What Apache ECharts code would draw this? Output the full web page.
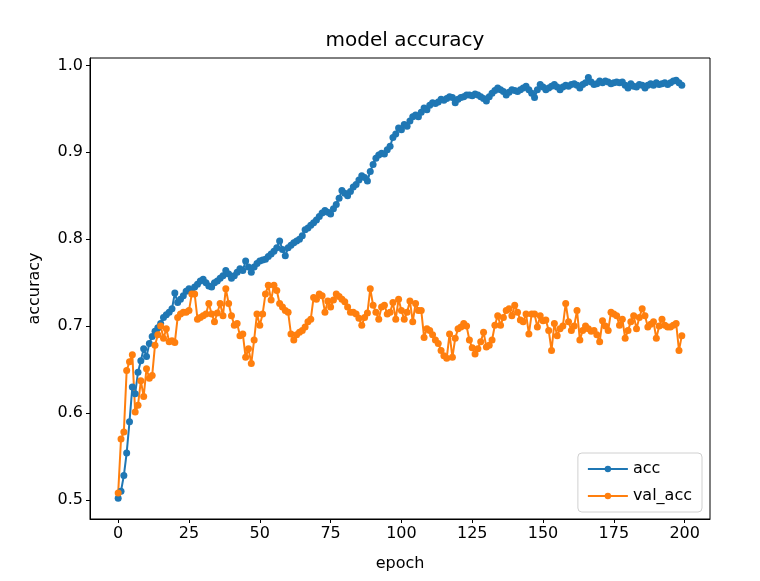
<!DOCTYPE html>
<html>
<head>
<meta charset="utf-8">
<script src="https://cdn.jsdelivr.net/npm/echarts@6/dist/echarts.min.js"></script>
<style>
html,body{margin:0;padding:0;background:#fff;}
#chart{width:760px;height:581px;}
</style>
</head>
<body>
<div id="chart"></div>
<script>
const chartTitle = 'model accuracy';
const xName = 'epoch';
const yName = 'accuracy';
const xTicks = [0, 25, 50, 75, 100, 125, 150, 175, 200];
const yTicks = [0.5, 0.6, 0.7, 0.8, 0.9, 1.0];

const acc = [
0.502,0.510,0.528,0.554,0.590,0.630,0.622,0.647,0.660,0.674,
0.665,0.680,0.688,0.694,0.698,0.703,0.710,0.713,0.716,0.720,
0.738,0.727,0.731,0.735,0.740,0.743,0.741,0.745,0.748,0.752,
0.754,0.750,0.746,0.745,0.750,0.752,0.755,0.758,0.764,0.760,
0.755,0.758,0.762,0.766,0.764,0.775,0.768,0.762,0.768,0.772,
0.775,0.776,0.777,0.780,0.783,0.786,0.790,0.798,0.788,0.781,
0.790,0.793,0.796,0.798,0.800,0.804,0.811,0.813,0.816,0.819,
0.822,0.826,0.830,0.833,0.831,0.829,0.835,0.840,0.847,0.856,
0.853,0.850,0.855,0.860,0.863,0.868,0.873,0.871,0.867,0.878,
0.886,0.893,0.897,0.899,0.898,0.903,0.907,0.917,0.921,0.928,
0.926,0.932,0.930,0.936,0.941,0.943,0.941,0.946,0.951,0.949,
0.954,0.957,0.956,0.958,0.961,0.960,0.962,0.964,0.963,0.957,
0.961,0.963,0.964,0.966,0.966,0.965,0.967,0.966,0.964,0.962,
0.959,0.964,0.968,0.971,0.974,0.972,0.970,0.966,0.969,0.972,
0.971,0.970,0.972,0.974,0.976,0.972,0.968,0.963,0.972,0.978,
0.975,0.972,0.974,0.976,0.978,0.975,0.972,0.975,0.977,0.976,
0.978,0.979,0.977,0.974,0.978,0.980,0.986,0.981,0.978,0.979,
0.982,0.980,0.982,0.981,0.979,0.980,0.981,0.980,0.981,0.977,
0.974,0.979,0.976,0.975,0.978,0.977,0.974,0.977,0.979,0.977,
0.980,0.978,0.979,0.980,0.978,0.980,0.982,0.983,0.980,0.977
];

const valAcc = [
0.508,0.570,0.578,0.649,0.659,0.667,0.601,0.609,0.637,0.619,
0.651,0.640,0.643,0.678,0.690,0.700,0.686,0.697,0.682,0.683,
0.681,0.710,0.714,0.716,0.716,0.718,0.737,0.737,0.708,0.710,
0.712,0.714,0.726,0.714,0.705,0.715,0.726,0.712,0.743,0.726,
0.712,0.701,0.703,0.689,0.691,0.664,0.674,0.657,0.684,0.714,
0.701,0.714,0.737,0.747,0.730,0.747,0.741,0.726,0.722,0.718,
0.716,0.691,0.684,0.690,0.693,0.695,0.699,0.705,0.708,0.733,
0.731,0.737,0.735,0.716,0.729,0.722,0.730,0.737,0.734,0.731,
0.728,0.722,0.716,0.716,0.714,0.709,0.701,0.710,0.715,0.743,
0.724,0.716,0.708,0.722,0.724,0.714,0.716,0.727,0.708,0.731,
0.718,0.708,0.716,0.729,0.705,0.726,0.718,0.718,0.687,0.697,
0.695,0.690,0.684,0.680,0.672,0.666,0.663,0.691,0.664,0.686,
0.697,0.699,0.703,0.700,0.684,0.675,0.668,0.674,0.682,0.693,
0.676,0.678,0.684,0.701,0.712,0.701,0.710,0.718,0.720,0.712,
0.724,0.716,0.707,0.705,0.714,0.691,0.714,0.714,0.699,0.712,
0.706,0.707,0.695,0.672,0.703,0.689,0.697,0.700,0.726,0.705,
0.695,0.700,0.718,0.684,0.695,0.700,0.697,0.694,0.695,0.690,
0.682,0.706,0.700,0.695,0.716,0.714,0.712,0.701,0.708,0.686,
0.695,0.705,0.712,0.697,0.710,0.720,0.712,0.699,0.702,0.705,
0.686,0.700,0.708,0.701,0.699,0.699,0.701,0.703,0.672,0.689
];

const epochs = acc.map((_, i) => i);
const accData = epochs.map((e, i) => [e, acc[i]]);
const valData = epochs.map((e, i) => [e, valAcc[i]]);

const FONT = 'DejaVu Sans';
const chart = echarts.init(document.getElementById('chart'), null, {renderer: 'canvas'});
chart.setOption({
  animation: false,
  backgroundColor: '#fff',
  title: {
    text: chartTitle,
    left: 400, top: 26, textAlign: 'center',
    textStyle: {fontFamily: FONT, fontSize: 20, fontWeight: 'normal', color: '#000'}
  },
  grid: {left: 90, right: 50, top: 58, bottom: 62, show: true, borderColor: '#000', borderWidth: 1, backgroundColor: 'transparent'},
  legend: {
    orient: 'vertical', right: 58, bottom: 69,
    backgroundColor: '#fff', borderColor: '#d0d0d0', borderWidth: 1, borderRadius: 4,
    padding: [8, 10, 8, 9], itemGap: 11, itemWidth: 40, itemHeight: 8,
    textStyle: {fontFamily: FONT, fontSize: 16, color: '#000'},
    data: ['acc', 'val_acc']
  },
  xAxis: {
    type: 'value', min: -9.95, max: 208.95,
    name: xName, nameLocation: 'middle', nameGap: 37,
    nameTextStyle: {fontFamily: FONT, fontSize: 16, color: '#000'},
    axisLine: {show: true, onZero: false, lineStyle: {color: '#000', width: 1}},
    axisTick: {show: true, inside: false, length: 4, customValues: xTicks, lineStyle: {color: '#000'}},
    axisLabel: {customValues: xTicks, fontFamily: FONT, fontSize: 16, color: '#000', margin: 7},
    splitLine: {show: false}
  },
  yAxis: {
    type: 'value', min: 0.478, max: 1.0085,
    name: yName, nameLocation: 'middle', nameGap: 47, nameRotate: 90,
    nameTextStyle: {fontFamily: FONT, fontSize: 16, color: '#000'},
    axisLine: {show: true, onZero: false, lineStyle: {color: '#000', width: 1}},
    axisTick: {show: true, inside: false, length: 4, customValues: yTicks, lineStyle: {color: '#000'}},
    axisLabel: {customValues: yTicks, fontFamily: FONT, fontSize: 16, color: '#000', margin: 7,
      formatter: v => v.toFixed(1)},
    splitLine: {show: false}
  },
  series: [
    {name: 'acc', type: 'line', data: accData, color: '#1f77b4',
     symbol: 'circle', symbolSize: 7, showAllSymbol: true,
     lineStyle: {width: 2, color: '#1f77b4'}, itemStyle: {color: '#1f77b4'}},
    {name: 'val_acc', type: 'line', data: valData, color: '#ff7f0e',
     symbol: 'circle', symbolSize: 7, showAllSymbol: true,
     lineStyle: {width: 2, color: '#ff7f0e'}, itemStyle: {color: '#ff7f0e'}}
  ]
});
</script>
</body>
</html>
